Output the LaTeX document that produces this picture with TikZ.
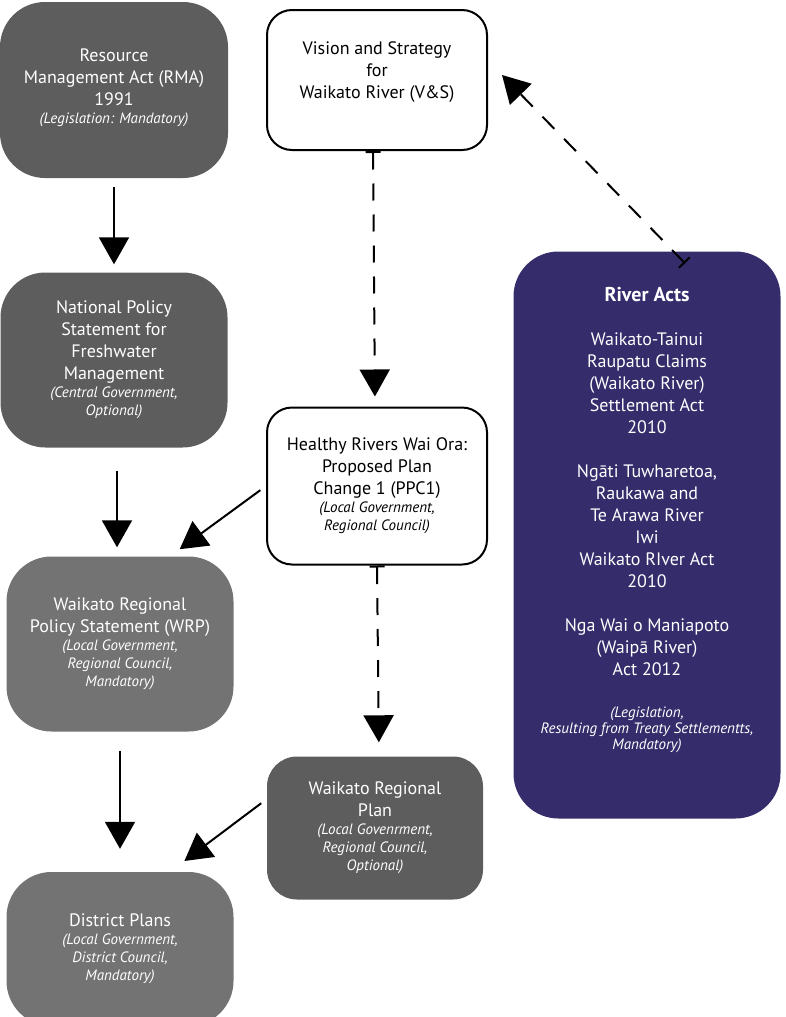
\documentclass[tikz,border=0pt]{standalone}
\usepackage{fontspec}
\setmainfont{PT Sans}
\usetikzlibrary{arrows.meta}
\definecolor{darkbox}{HTML}{5D5D5D}
\definecolor{lightbox}{HTML}{737373}
\definecolor{riverblue}{HTML}{352C6C}
\newcommand{\smallnote}[1]{{\fontsize{15}{18}\selectfont\itshape #1}}
\tikzset{
  plan/.style={rounded corners=45pt, inner sep=0pt, align=center, text=white,
    font=\fontsize{18}{22}\selectfont},
  darkplan/.style={plan, fill=darkbox},
  lightplan/.style={plan, fill=lightbox},
  openplan/.style={plan, rounded corners=25pt, draw=black, line width=2pt, fill=white, text=black},
  actbox/.style={plan, fill=riverblue},
  solidarr/.style={line width=2pt, -{Triangle[width=30pt,length=27pt]}},
  dasharr/.style={line width=2pt, dash pattern=on 17pt off 14pt,
    {Bar[width=15pt,line width=2pt]}-{Triangle[width=30pt,length=27pt]}}
}
\begin{document}
\begin{tikzpicture}[x=1pt,y=-1pt]
\useasboundingbox (0,0) rectangle (785,1017);
\coordinate (RMA) at (114,90);
\coordinate (NPS) at (114,360);
\coordinate (WRPS) at (120,644);
\coordinate (DP) at (120,949);
\coordinate (VS) at (377,80);
\coordinate (HR) at (377,486);
\coordinate (WRP) at (375,828);
\coordinate (RA) at (647,535);

\node [darkplan, minimum width=228pt, minimum height=176pt] (rma) at (RMA)
  {Resource\\Management Act (RMA)\\1991\\[-4pt]\smallnote{(Legislation: Mandatory)}\\[-14pt]\mbox{}};
\node [darkplan, minimum width=227pt, minimum height=175pt] (nps) at (NPS)
  {National Policy\\Statement for\\Freshwater\\Management\\[-4pt]\smallnote{(Central Government,}\\[-4pt]\smallnote{Optional)}};
\node [lightplan, minimum width=227pt, minimum height=175pt] (wrps) at (WRPS)
  {Waikato Regional\\Policy Statement (WRP)\\[-4pt]\smallnote{(Local Government,}\\[-4pt]\smallnote{Regional Council,}\\[-4pt]\smallnote{Mandatory)}};
\node [lightplan, minimum width=227pt, minimum height=154pt] (dp) at (DP)
  {District Plans\\[-4pt]\smallnote{(Local Government,}\\[-4pt]\smallnote{District Council,}\\[-4pt]\smallnote{Mandatory)}};
\node [openplan, minimum width=220pt, minimum height=140pt] (vs) at (VS)
  {Vision and Strategy\\for\\Waikato River (V\&S)\\[-2pt]\mbox{}};
\node [openplan, minimum width=220pt, minimum height=157pt] (hr) at (HR)
  {Healthy Rivers Wai Ora:\\Proposed Plan\\Change 1 (PPC1)\\[-4pt]\smallnote{(Local Government,}\\[-4pt]\smallnote{Regional Council)}};
\node [darkplan, rounded corners=30pt, minimum width=216pt, minimum height=143pt] (wrp) at (WRP)
  {Waikato Regional\\Plan\\[-4pt]\smallnote{(Local Govenrment,}\\[-4pt]\smallnote{Regional Council,}\\[-4pt]\smallnote{Optional)}};
\node [actbox, minimum width=267pt, minimum height=567pt] (ra) at (RA)
  {{\fontsize{20}{22}\selectfont\bfseries River Acts}\\[22pt]Waikato-Tainui\\Raupatu Claims\\(Waikato River)\\Settlement Act\\2010\\[22pt]Ngāti Tuwharetoa,\\Raukawa and\\Te Arawa River\\Iwi\\Waikato RIver Act\\2010\\[22pt]Nga Wai o Maniapoto\\(Waipā River)\\Act 2012\\[20pt]\smallnote{(Legislation,}\\[-6pt]\smallnote{Resulting from Treaty Settlementts,}\\[-6pt]\smallnote{Mandatory)}\\[12pt]\mbox{}};

\draw [solidarr, shorten <=9pt, shorten >=8pt] (rma.south) -- (nps.north);
\draw [solidarr, shorten <=23pt, shorten >=9pt] ([xshift=3pt]nps.south) -- ([xshift=-3pt]wrps.north);
\draw [solidarr, shorten <=19pt, shorten >=23pt] (wrps.south) -- (dp.north);
\draw [solidarr, shorten <=7pt, shorten >=12pt] (hr.west) -- ([xshift=50pt]wrps.north);
\draw [solidarr, shorten <=7pt, shorten >=18pt] ([yshift=29pt]wrp.west) -- ([xshift=50pt]dp.north);
\draw [dasharr, shorten >=10pt] ([xshift=-4pt]vs.south) -- ([xshift=-2pt]hr.north);
\draw [dasharr, shorten >=14pt] (hr.south) -- ([xshift=4pt]wrp.north);
\draw [dasharr] ([xshift=38pt,yshift=-12pt]ra.north) -- ([xshift=14pt,yshift=5pt]vs.east);

\end{tikzpicture}
\end{document}
